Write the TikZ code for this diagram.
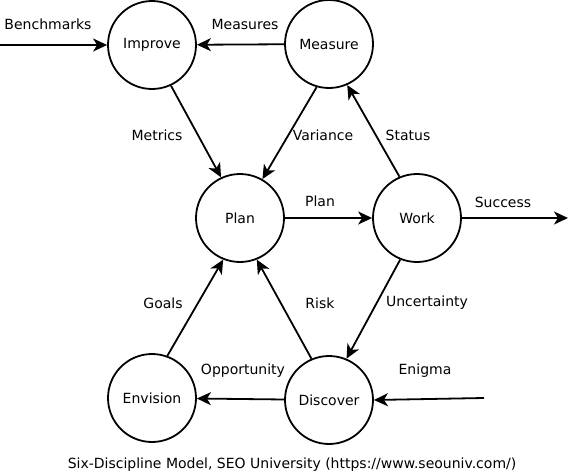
\documentclass[tikz,border=0pt]{standalone}
\usepackage{fontspec}
\setmainfont{DejaVu Sans}
\usetikzlibrary{arrows.meta}
\begin{document}
\begin{tikzpicture}[x=1pt,y=-1pt,
  disc/.style={circle,draw,line width=1.8pt,minimum size=88pt,inner sep=0pt,font=\fontsize{14}{16}\selectfont},
  lbl/.style={font=\fontsize{14}{16}\selectfont,inner sep=0pt},
  flow/.style={line width=1.8pt,-{Stealth[length=14pt,width=13pt,inset=4pt]}}]
\useasboundingbox (0,0) rectangle (568,474);
\node[disc] (improve) at (152,45) {Improve};
\node[disc] (measure) at (329,44) {Measure};
\node[disc] (plan) at (240,218) {Plan};
\node[disc] (work) at (417,218) {Work};
\node[disc] (envision) at (152,398) {Envision};
\node[disc] (discover) at (329,400) {Discover};
\coordinate (bin) at (0,45);
\coordinate (sout) at (568,218);
\coordinate (ein) at (484,398);
\draw[flow] (bin) -- (improve.west);
\draw[flow] (measure) -- (improve);
\draw[flow] (improve.-65) -- (plan.115);
\draw[flow] (measure.-106) -- (plan.60);
\draw[flow] (work.113) -- (measure.-66);
\draw[flow] (plan) -- (work);
\draw[flow] (work.east) -- (sout);
\draw[flow] (envision.70) -- (plan.-112);
\draw[flow] (discover.113) -- (plan.-68);
\draw[flow] (work.-112) -- (discover.67);
\draw[flow] (discover) -- (envision);
\draw[flow] (ein) -- (discover.east);
\node[lbl] (l1) at (48,24) {Benchmarks};
\node[lbl] (l2) at (245,24) {Measures};
\node[lbl] (l3) at (157,135) {Metrics};
\node[lbl] (l4) at (323,135) {Variance};
\node[lbl] (l5) at (408,135) {Status};
\node[lbl] (l6) at (320,201) {Plan};
\node[lbl] (l7) at (503,202) {Success};
\node[lbl] (l8) at (163,303) {Goals};
\node[lbl] (l9) at (320,303) {Risk};
\node[lbl] (l10) at (427,303) {Uncertainty};
\node[lbl] (l11) at (243,371) {Opportunity};
\node[lbl] (l12) at (425,371) {Enigma};
\node[lbl] (cap) at (292,465) {Six-Discipline Model, SEO University (https://www.seouniv.com/)};
\end{tikzpicture}
\end{document}
